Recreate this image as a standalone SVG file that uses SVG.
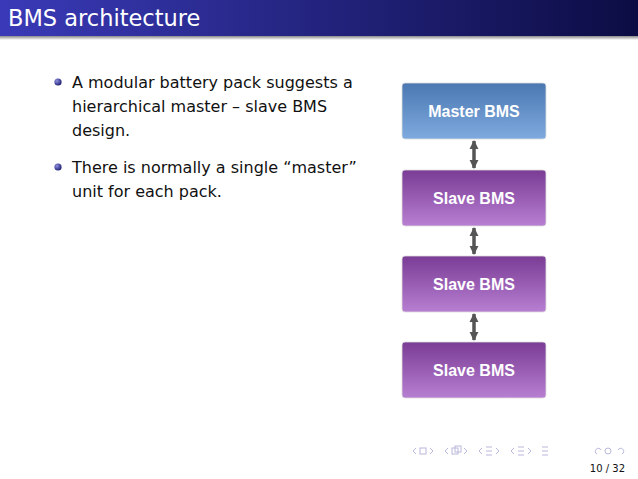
<svg xmlns="http://www.w3.org/2000/svg" width="638" height="479" viewBox="0 0 638 479">
<defs>
<linearGradient id="bar" x1="0" y1="0" x2="1" y2="0"><stop offset="0" stop-color="#3a3ab8"/><stop offset="1" stop-color="#0c0c44"/></linearGradient>
<linearGradient id="shadow" x1="0" y1="0" x2="0" y2="1"><stop offset="0" stop-color="#888"/><stop offset="1" stop-color="#fff"/></linearGradient>
<linearGradient id="master" x1="0" y1="0" x2="0" y2="1"><stop offset="0" stop-color="#4b78b1"/><stop offset="1" stop-color="#7eaadf"/></linearGradient>
<linearGradient id="slave" x1="0" y1="0" x2="0" y2="1"><stop offset="0" stop-color="#7a3c95"/><stop offset="1" stop-color="#b77fd2"/></linearGradient>
<radialGradient id="ball" cx="0.35" cy="0.35" r="0.7"><stop offset="0" stop-color="#9090e0"/><stop offset="1" stop-color="#1a1a70"/></radialGradient>
<marker id="ah" viewBox="0 0 10 10" refX="9" refY="5" markerWidth="2.6" markerHeight="2.6" orient="auto-start-reverse"><path d="M0,0 L10,5 L0,10 z" fill="#555"/></marker>
</defs>
<style>
.box{stroke:#ddd;stroke-width:0.8}
.lbl{font-family:"Liberation Sans",Arial,sans-serif;font-weight:bold;font-size:16px;fill:#fff;text-anchor:middle}
.body{font-family:"DejaVu Sans","Liberation Sans",sans-serif;font-size:16px;fill:#111}
.conn{stroke:#555;stroke-width:3.5;fill:none}
.nav{fill:none;stroke:#b8b8dc;stroke-width:1}
</style>
<rect x="0" y="0" width="638" height="479" fill="#fff"/>
<rect x="0" y="0" width="638" height="36" fill="url(#bar)"/>
<rect x="0" y="36" width="638" height="4" fill="url(#shadow)"/>
<text x="8" y="26" font-family="DejaVu Sans,Liberation Sans,sans-serif" font-size="22.5" fill="#fff">BMS architecture</text>

<circle cx="58" cy="82" r="3.6" fill="url(#ball)"/>
<text class="body" x="72" y="88">A modular battery pack suggests a</text>
<text class="body" x="72" y="112">hierarchical master – slave BMS</text>
<text class="body" x="72" y="136">design.</text>
<circle cx="58" cy="167" r="3.6" fill="url(#ball)"/>
<text class="body" x="72" y="173">There is normally a single “master”</text>
<text class="body" x="72" y="197">unit for each pack.</text>

<g id="connectors">
<line class="conn" x1="474" y1="141" x2="474" y2="168" marker-start="url(#ah)" marker-end="url(#ah)"/>
<line class="conn" x1="474" y1="228" x2="474" y2="254" marker-start="url(#ah)" marker-end="url(#ah)"/>
<line class="conn" x1="474" y1="314" x2="474" y2="340" marker-start="url(#ah)" marker-end="url(#ah)"/>
</g>
<g id="master">
<rect class="box" x="402" y="83" width="144" height="56" rx="3" fill="url(#master)"/>
<text class="lbl" x="474" y="117">Master BMS</text>
</g>
<g id="slave1">
<rect class="box" x="402" y="170" width="144" height="56" rx="3" fill="url(#slave)"/>
<text class="lbl" x="474" y="204">Slave BMS</text>
</g>
<g id="slave2">
<rect class="box" x="402" y="256" width="144" height="56" rx="3" fill="url(#slave)"/>
<text class="lbl" x="474" y="290">Slave BMS</text>
</g>
<g id="slave3">
<rect class="box" x="402" y="342" width="144" height="56" rx="3" fill="url(#slave)"/>
<text class="lbl" x="474" y="376">Slave BMS</text>
</g>

<g id="nav">
<path class="nav" d="M416,448 l-3,3 l3,3"/>
<rect class="nav" x="420" y="448" width="6" height="6"/>
<path class="nav" d="M430,448 l3,3 l-3,3"/>
<path class="nav" d="M448,448 l-3,3 l3,3"/>
<rect class="nav" x="452" y="448" width="6" height="6"/>
<rect class="nav" x="455" y="446" width="6" height="6"/>
<path class="nav" d="M464,448 l3,3 l-3,3"/>
<path class="nav" d="M482,448 l-3,3 l3,3"/>
<path class="nav" d="M486,447 h6 M486,451 h6 M486,455 h6"/>
<path class="nav" d="M496,448 l3,3 l-3,3"/>
<path class="nav" d="M514,448 l-3,3 l3,3"/>
<path class="nav" d="M518,447 h6 M518,451 h6 M518,455 h6"/>
<path class="nav" d="M528,448 l3,3 l-3,3"/>
<path class="nav" d="M542,447 h6 M542,451 h6 M542,455 h6"/>
<path class="nav" d="M597,454 a3,3 0 1 1 4,-4"/>
<circle class="nav" cx="608" cy="451" r="3"/>
<path class="nav" d="M622,454 a3,3 0 1 0 -4,-4"/>
</g>
<text x="625" y="472" font-family="DejaVu Sans,Liberation Sans,sans-serif" font-size="10" fill="#111" text-anchor="end">10 / 32</text>
</svg>
